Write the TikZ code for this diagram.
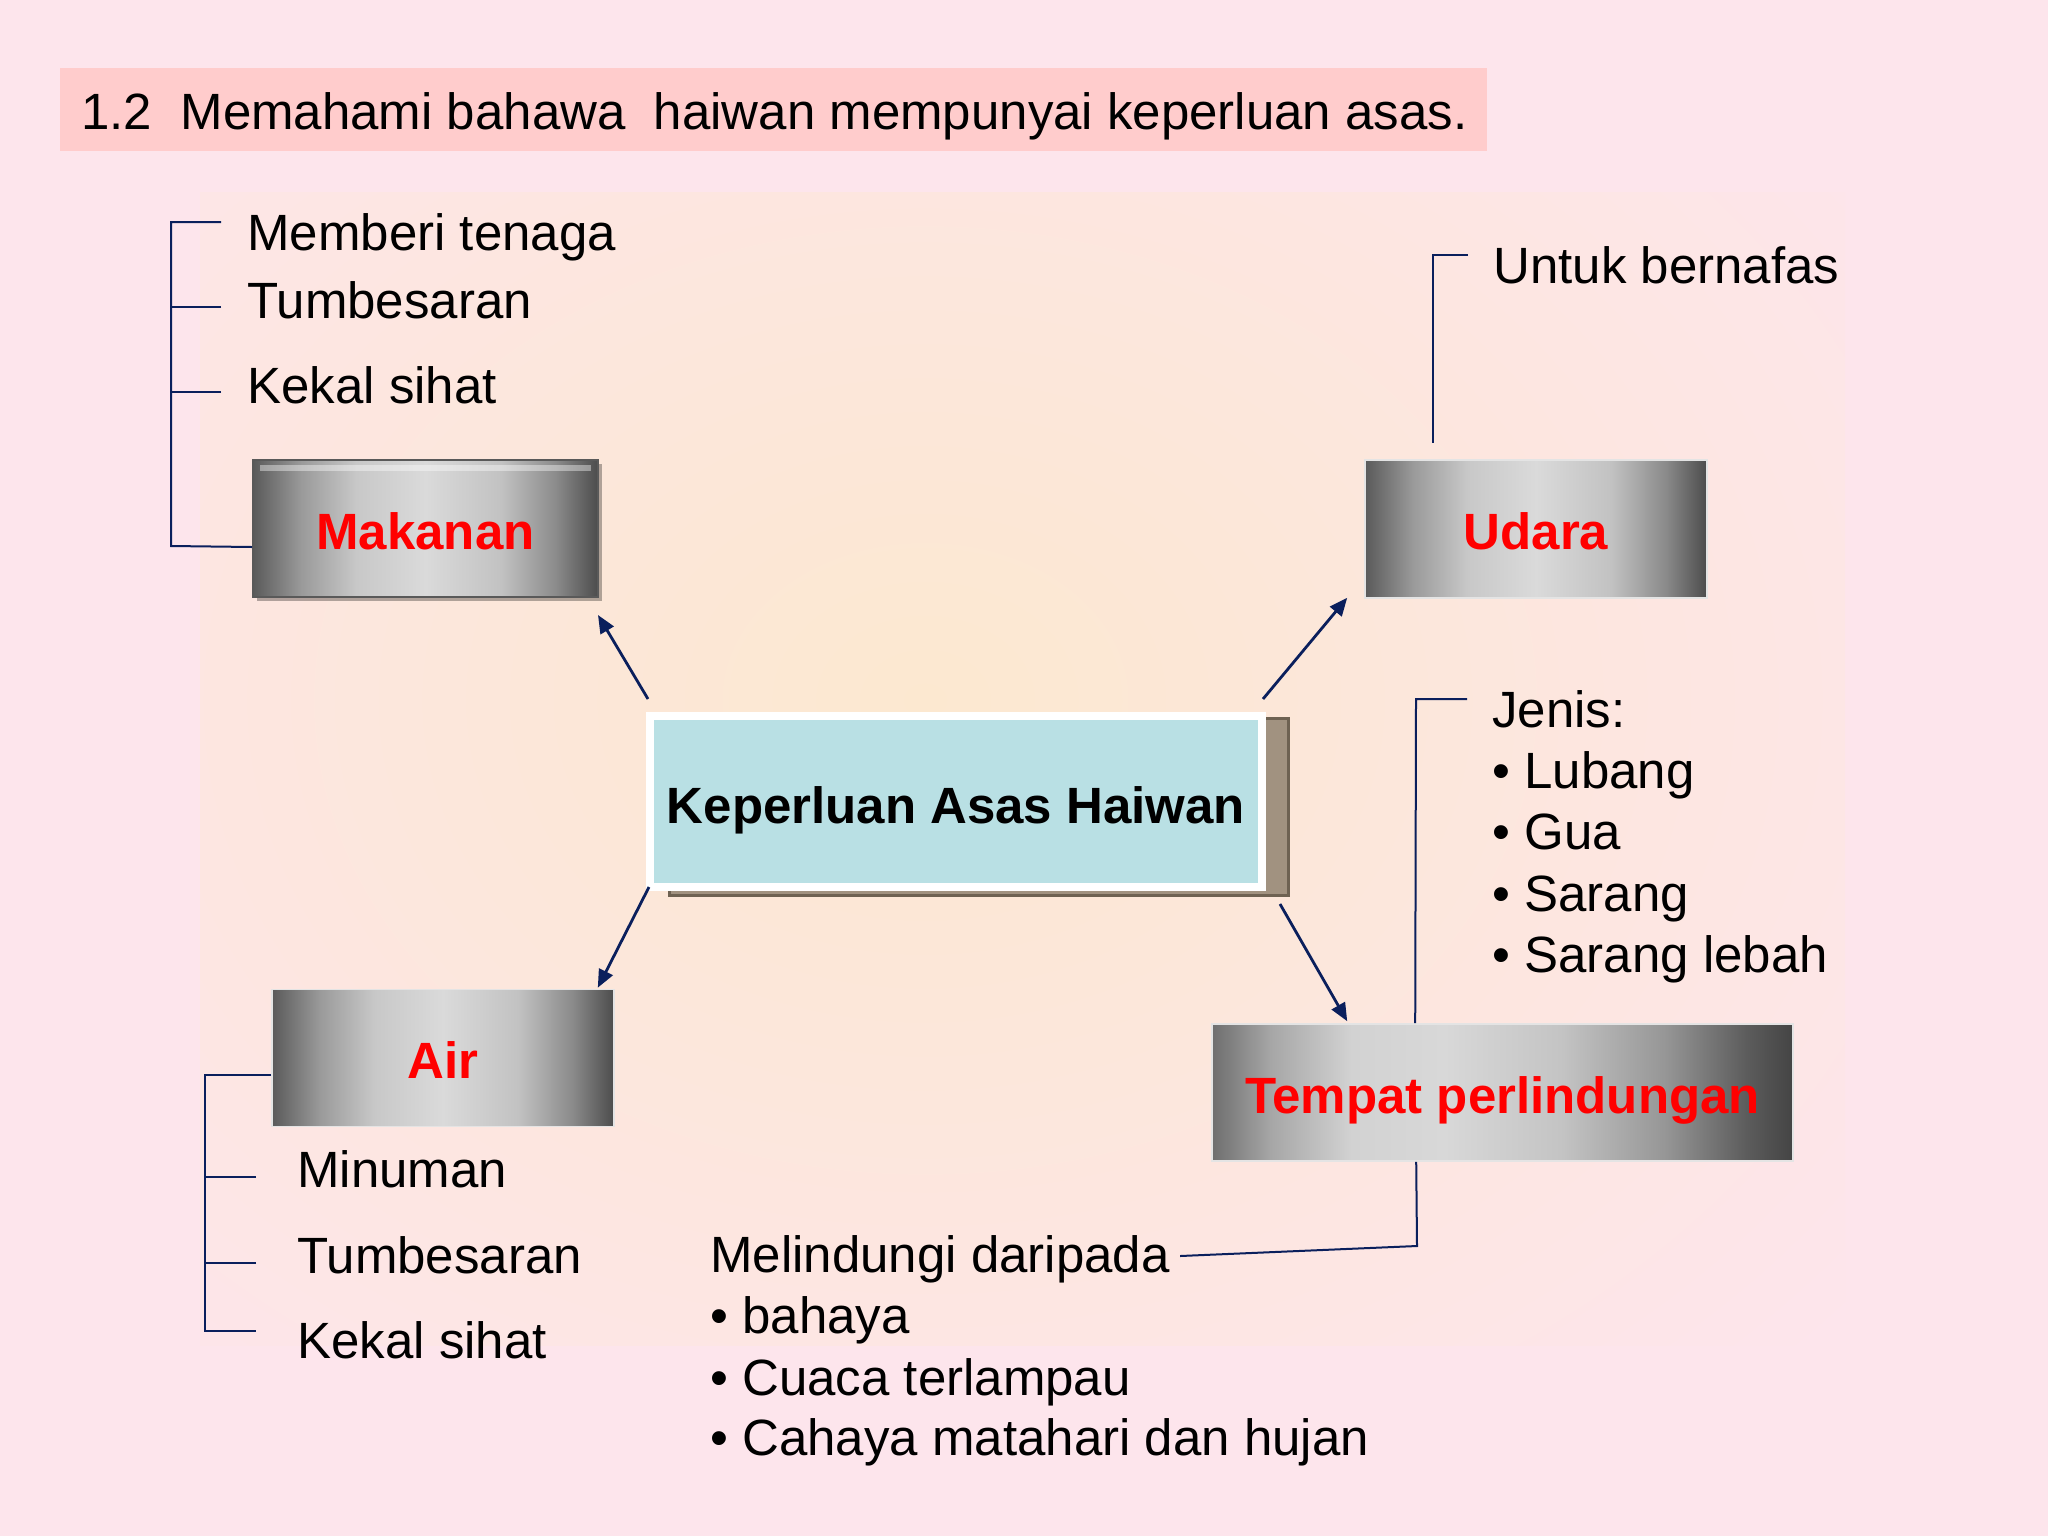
\documentclass[tikz,border=0pt]{standalone}
\usepackage{fontspec}
\setmainfont{Liberation Sans}
\usetikzlibrary{arrows.meta,calc,shadows}
\definecolor{bgpink}{HTML}{FDE5EC}
\definecolor{peach}{HTML}{FCE8D0}
\definecolor{titlebg}{HTML}{FFCCCC}
\definecolor{navy}{HTML}{0A1F5C}
\definecolor{boxblue}{HTML}{B9E0E4}
\definecolor{shadowbrown}{HTML}{A19280}
\definecolor{shadowdark}{HTML}{6E6252}
\definecolor{redtxt}{HTML}{FF0000}
\definecolor{gA1}{HTML}{5A5A5A}
\definecolor{gA2}{HTML}{9A9A9A}
\definecolor{gA3}{HTML}{C8C8C8}
\definecolor{gA4}{HTML}{DADADA}
\definecolor{gA5}{HTML}{C2C2C2}
\definecolor{gA6}{HTML}{8A8A8A}
\definecolor{gA7}{HTML}{4C4C4C}
\definecolor{tB1}{HTML}{6E6E6E}
\definecolor{tB2}{HTML}{A6A6A6}
\definecolor{tB3}{HTML}{D2D2D2}
\definecolor{tB4}{HTML}{D8D8D8}
\definecolor{tB5}{HTML}{C4C4C4}
\definecolor{tB6}{HTML}{969696}
\definecolor{tB7}{HTML}{5C5C5C}
\definecolor{tB8}{HTML}{444444}
\definecolor{gborder}{HTML}{E4E4E4}
\pgfdeclarehorizontalshading{grayA}{100bp}{color(0bp)=(gA1); color(25bp)=(gA1); color(32bp)=(gA2); color(40bp)=(gA3); color(50bp)=(gA4); color(61bp)=(gA5); color(69bp)=(gA6); color(75bp)=(gA7); color(100bp)=(gA7)}
\pgfdeclarehorizontalshading{grayT}{100bp}{color(0bp)=(tB1); color(25bp)=(tB1); color(30bp)=(tB2); color(37bp)=(tB3); color(45bp)=(tB4); color(55bp)=(tB5); color(64bp)=(tB6); color(71bp)=(tB7); color(75bp)=(tB8); color(100bp)=(tB8)}
\begin{document}
\begin{tikzpicture}[x=0.5pt, y=-0.5pt,
  font=\fontsize{25.5pt}{30pt}\selectfont,
  txt/.style={anchor=base west, inner sep=0pt, text=black},
  br/.style={navy, line width=1pt},
  arr/.style={navy, line width=1.4pt, -{Triangle[length=9pt,width=7.5pt]}},
  gbox/.style={draw=gborder, line width=0.8pt, inner sep=0pt, text=redtxt,
    text height=20.5pt, text depth=0pt,
    font=\fontsize{25.5pt}{30pt}\selectfont\bfseries, shading=grayA},
]
\useasboundingbox (0,0) rectangle (2048,1536);
% background
\fill[bgpink] (0,0) rectangle (2048,1536);
\begin{scope}
  \clip (200,192) rectangle (1845,1345);
  \shade[inner color=peach, outer color=bgpink] (-300,-250) rectangle (2150,1650);
\end{scope}

% title
\node[fill=titlebg, anchor=north west, inner xsep=10.5pt, inner ysep=0pt,
  text height=30.5pt, text depth=11pt] (ttl) at (60,68)
  {\makebox[692.5pt][l]{1.2\ \ Memahami bahawa\ \ haiwan mempunyai keperluan asas.}};

% central box shadow + box
\fill[shadowbrown, draw=shadowdark, line width=1.5pt] (669,718) rectangle (1288,895);
\node[fill=boxblue, draw=white, line width=4pt, minimum width=306pt, minimum height=85.5pt,
  inner sep=0pt, text height=21.5pt, text depth=0pt,
  font=\fontsize{25.5pt}{30pt}\selectfont\bfseries] (kah) at (956,801.5)
  {Keperluan Asas Haiwan};

% gray boxes
\node[gbox, draw=black!65, line width=1pt, minimum width=172.5pt, minimum height=68.5pt,
  drop shadow={shadow xshift=2pt, shadow yshift=-2pt, opacity=0.3, fill=black}] (mak) at (425.5,528.5) {Makanan};
\draw[white, opacity=0.4, line width=3pt] ($(mak.north west)+(8,9)$) -- ($(mak.north east)+(-8,9)$);
\node[gbox, minimum width=171pt, minimum height=69pt] (udr) at (1536,529) {Udara};
\node[gbox, minimum width=171pt, minimum height=68.5pt] (air) at (443,1058) {Air};
\node[gbox, shading=grayT, minimum width=290.5pt, minimum height=68.5pt] (tmp) at (1502.5,1092.5) {Tempat perlindungan};

% texts top-left
\node[txt] (mk1) at (247,250) {Memberi tenaga};
\node[txt] (mk2) at (247,318) {Tumbesaran};
\node[txt] (mk3) at (247,403) {Kekal sihat};
% udara text
\node[txt] (ud1) at (1493,283) {Untuk bernafas};
% tempat texts
\node[txt] (tj0) at (1492,727) {Jenis:};
\node[txt] (tj1) at (1492,788) {• Lubang};
\node[txt] (tj2) at (1492,849) {• Gua};
\node[txt] (tj3) at (1492,911) {• Sarang};
\node[txt] (tj4) at (1492,972) {• Sarang lebah};
% melindungi
\node[txt] (mel) at (710,1272) {Melindungi daripada};
\node[txt] (ml1) at (710,1333) {• bahaya};
\node[txt] (ml2) at (710,1395) {• Cuaca terlampau};
\node[txt] (ml3) at (710,1455) {• Cahaya matahari dan hujan};
% air texts
\node[txt] (ai1) at (297,1187) {Minuman};
\node[txt] (ai2) at (297,1273) {Tumbesaran};
\node[txt] (ai3) at (297,1358) {Kekal sihat};

% brackets
\coordinate (mkt1) at (221,222);
\coordinate (mkt2) at (221,307);
\coordinate (mkt3) at (221,392);
\draw[br] (mkt1) -- (171,222) -- (171,546) -- ($(mak.south west)+(0,-51)$);
\draw[br] (mkt2) -- (171,307);
\draw[br] (mkt3) -- (171,392);

\coordinate (udt) at (1468,255);
\coordinate (udb) at (1433,443);
\draw[br] (udt) -- (1433,255) -- (udb);

\coordinate (tjt) at (1467,699);
\draw[br] (tjt) -- (1416,699) -- ($(tmp.north west)+(204,0)$);
\draw[br] ($(tmp.south west)+(205,0)$) -- (1417,1246) -- ($(mel.base east)+(10,-16)$);

\coordinate (ait1) at (256,1177);
\coordinate (ait2) at (256,1263);
\coordinate (ait3) at (256,1331);
\draw[br] ($(air.west)+(0,17)$) -- (205,1075) -- (205,1331) -- (ait3);
\draw[br] (ait1) -- (205,1177);
\draw[br] (ait2) -- (205,1263);

% arrows
\draw[arr] ($(kah.north west)+(2,-13)$) -- ($(mak.south east)+(-1,17)$);
\draw[arr] ($(kah.north east)+(-3,-13)$) -- ($(udr.south west)+(-17,-1)$);
\draw[arr] ($(kah.south west)+(3,-4)$) -- ($(air.north east)+(-17,-1)$);
\draw[arr] ($(kah.south east)+(14,13)$) -- ($(tmp.north west)+(136,-2)$);
\end{tikzpicture}
\end{document}
